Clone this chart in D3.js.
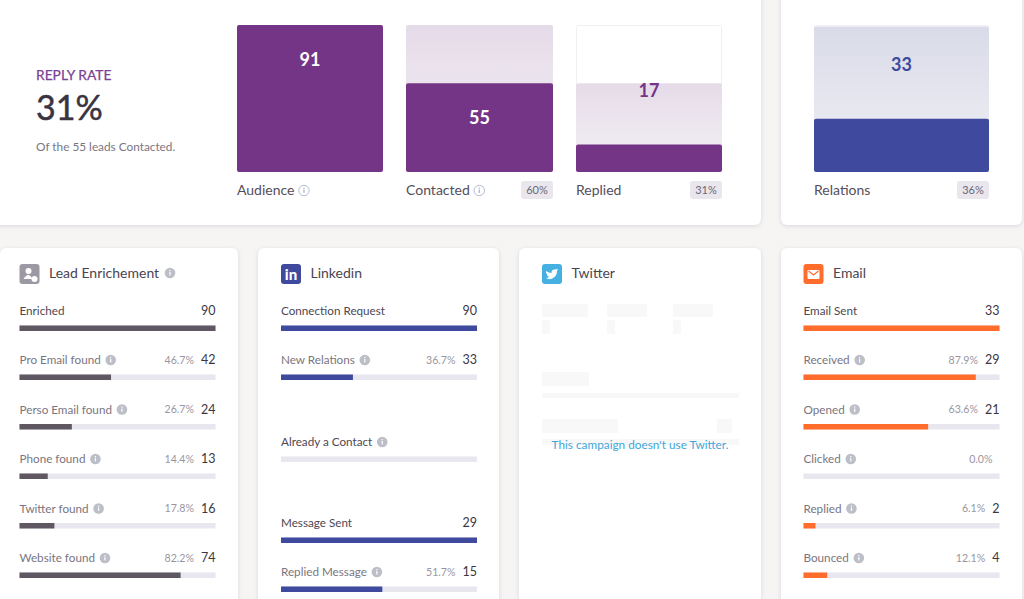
<!DOCTYPE html>
<html>
<head>
  <meta charset="utf-8">
  <title>Campaign stats</title>
  <style>
    html, body { margin: 0; padding: 0; background: #f6f5f4; overflow: hidden; }
    svg { display: block; font-family: Lato, "Open Sans", sans-serif; }
    .card { fill: #fff; filter: drop-shadow(0 1px 2px rgba(90, 80, 120, 0.18)); }
  </style>
  <script src="https://d3js.org/d3.v7.min.js"></script>
</head>
<body>
  <svg id="chart" width="1024" height="599"></svg>

  <script>
    // funnel values
    var funnelNames = ["Audience", "Contacted", "Replied", "Relations"];
    var funnelValues = [91, 55, 17, 33];
    var funnelGhost = [null, 91, 55, 90];
    var funnelPct = [null, "60%", "31%", "36%"];

    // lead enrichment
    var enrichNames = ["Enriched", "Pro Email found", "Perso Email found", "Phone found", "Twitter found", "Website found"];
    var enrichValues = [90, 42, 24, 13, 16, 74];
    var enrichPct = [null, 46.7, 26.7, 14.4, 17.8, 82.2];

    // linkedin
    var linkedinNames = ["Connection Request", "New Relations", "Already a Contact", "Message Sent", "Replied Message"];
    var linkedinValues = [90, 33, null, 29, 15];
    var linkedinPct = [null, 36.7, null, null, 51.7];

    // email
    var emailNames = ["Email Sent", "Received", "Opened", "Clicked", "Replied", "Bounced"];
    var emailValues = [33, 29, 21, null, 2, 4];
    var emailPct = [null, 87.9, 63.6, 0.0, 6.1, 12.1];

    var purple = "#743587", blue = "#3f4a9e", orange = "#ff6c2b", slate = "#5f5762";

    var svg = d3.select("#chart");
    var defs = svg.append("defs");

    function addGradient(id, top, bottom) {
      var g = defs.append("linearGradient").attr("id", id).attr("x1", 0).attr("y1", 0).attr("x2", 0).attr("y2", 1);
      g.append("stop").attr("offset", "0%").attr("stop-color", top);
      g.append("stop").attr("offset", "100%").attr("stop-color", bottom);
    }
    addGradient("ghostPurple", "#e6dbe9", "#f3f2f4");
    addGradient("ghostBlue", "#d9dbe8", "#f1f0f5");

    // cards
    var cards = [[-20, -20, 781, 245], [781, -20, 241, 245], [0, 248, 238, 380], [258, 248, 241, 380], [519, 248, 242, 380], [781, 248, 241, 380]];
    svg.selectAll("rect.card").data(cards).enter().append("rect")
      .attr("class", "card").attr("rx", 6)
      .attr("x", function(d) { return d[0]; }).attr("y", function(d) { return d[1]; })
      .attr("width", function(d) { return d[2]; }).attr("height", function(d) { return d[3]; });

    function addText(parent, x, y, str, size, color, anchor, weight) {
      return parent.append("text").attr("x", x).attr("y", y).attr("dy", "0.35em")
        .attr("font-size", size).attr("fill", color)
        .attr("text-anchor", anchor || "start").attr("font-weight", weight || 400).text(str);
    }

    function infoIcon(x, y, outlined) {
      var g = svg.append("g").attr("transform", "translate(" + x + "," + y + ")");
      g.append("circle").attr("r", outlined ? 5.2 : 5.3)
        .attr("fill", outlined ? "none" : "#bcbfc7").attr("stroke", outlined ? "#b4bdd0" : "none");
      g.append("rect").attr("x", -0.6).attr("y", -1).attr("width", 1.2).attr("height", 3.4).attr("fill", outlined ? "#a5aec4" : "#fff");
      g.append("rect").attr("x", -0.6).attr("y", -3).attr("width", 1.2).attr("height", 1.2).attr("fill", outlined ? "#a5aec4" : "#fff");
    }

    // reply rate block
    addText(svg, 36, 75.5, "REPLY RATE", 13.8, "#7a4295", "start", 400).attr("stroke", "#7a4295").attr("stroke-width", 0.25);
    addText(svg, 36, 108.5, "31%", 34, "#3a3340", "start", 400).attr("stroke", "#3a3340").attr("stroke-width", 0.5);
    addText(svg, 36, 147, "Of the 55 leads Contacted.", 11.8, "#7b7681");

    // funnel, all boxes share one vertical scale
    var funnelY = d3.scaleLinear().domain([0, 91]).range([172, 25]);
    var funnelX = [237, 406, 576, 814];
    var funnelW = [146, 147, 146, 175];
    var funnelColor = [purple, purple, purple, blue];
    var numberY = [60, 118, 91, 65];
    var numberColor = ["#fff", "#fff", purple, blue];

    funnelNames.forEach(function(name, i) {
      var x = funnelX[i], w = funnelW[i];
      svg.append("rect").attr("x", x + 0.5).attr("y", funnelY(91) + 0.5).attr("width", w - 1).attr("height", funnelY(0) - funnelY(91) - 1)
        .attr("rx", 2).attr("fill", "#fff").attr("stroke", "#f1eff3");
      if (funnelGhost[i] !== null) {
        svg.append("rect").attr("x", x).attr("y", funnelY(funnelGhost[i]))
          .attr("width", w).attr("height", funnelY(0) - funnelY(funnelGhost[i]))
          .attr("rx", 2).attr("fill", i === 3 ? "url(#ghostBlue)" : "url(#ghostPurple)");
      }
      svg.append("rect").attr("x", x).attr("y", funnelY(funnelValues[i]))
        .attr("width", w).attr("height", funnelY(0) - funnelY(funnelValues[i]))
        .attr("rx", 2).attr("fill", funnelColor[i]);

      addText(svg, x + w / 2, numberY[i], funnelValues[i], 18, numberColor[i], "middle", 700);

      var label = addText(svg, x, 190.5, name, 14, "#544e5a");
      if (i < 2) infoIcon(x + label.node().getComputedTextLength() + 9.5, 190.5, true);

      if (funnelPct[i]) {
        svg.append("rect").attr("x", x + w - 32).attr("y", 181).attr("width", 32).attr("height", 18).attr("rx", 3).attr("fill", "#e9e6ee");
        addText(svg, x + w - 16, 190, funnelPct[i], 11, "#6d6773", "middle");
      }
    });

    // panel of progress rows
    function drawPanel(opts) {
      var x = d3.scaleLinear().domain([0, 100]).range([opts.x, opts.x + 196]);
      opts.names.forEach(function(name, i) {
        var labelY = opts.rows[i], barY = labelY + 14.5;
        var value = opts.values[i], pct = opts.pct[i];
        var isHead = pct === null;

        var label = addText(svg, opts.x, labelY, name, 11.7, isHead ? "#4d4753" : "#7a7580");
        if (!isHead || value === null) infoIcon(opts.x + label.node().getComputedTextLength() + 10, labelY, false);

        var valueText = addText(svg, opts.x + 196, labelY, value === null ? "" : value, 12.5, "#3d3742", "end");
        if (pct !== null) {
          var used = value === null ? 0 : valueText.node().getComputedTextLength();
          addText(svg, opts.x + 196 - used - 7, labelY, pct.toFixed(1) + "%", 10.6, "#9a96a1", "end");
        }

        var fillTo = isHead ? (value === null ? 0 : 100) : pct;
        svg.append("rect").attr("x", x(0)).attr("y", barY).attr("width", x(100) - x(0)).attr("height", 5.5).attr("fill", "#e8e6ee");
        svg.append("rect").attr("x", x(0)).attr("y", barY).attr("width", x(fillTo) - x(0)).attr("height", 5.5).attr("fill", opts.color);
      });
    }

    var evenRows = [311, 360, 409.5, 459, 508.5, 558];
    drawPanel({ x: 19.5, names: enrichNames, values: enrichValues, pct: enrichPct, color: slate, rows: evenRows });
    drawPanel({ x: 281, names: linkedinNames, values: linkedinValues, pct: linkedinPct, color: blue, rows: [311, 360, 442, 523, 572] });
    drawPanel({ x: 803.5, names: emailNames, values: emailValues, pct: emailPct, color: orange, rows: evenRows });

    // panel headers
    function header(x, color, title) {
      svg.append("rect").attr("x", x).attr("y", 264).attr("width", 20).attr("height", 20).attr("rx", 3).attr("fill", color);
      addText(svg, x + 29.5, 273, title, 14, "#4a4450");
      return svg.append("g").attr("transform", "translate(" + x + ",264)");
    }

    var leadIcon = header(19.5, "#9d99a3", "Lead Enrichement");
    leadIcon.append("circle").attr("cx", 9).attr("cy", 7).attr("r", 3).attr("fill", "#fff");
    leadIcon.append("path").attr("d", "M4 15 Q9 7 13 15 Z").attr("fill", "#fff");
    leadIcon.append("circle").attr("cx", 15).attr("cy", 15).attr("r", 3).attr("fill", "#fff");
    infoIcon(170, 273, false);

    var inIcon = header(281, blue, "Linkedin");
    addText(inIcon, 10, 10.5, "in", 15, "#fff", "middle", 900);

    var twIcon = header(542, "#45b1e3", "Twitter");
    twIcon.append("path").attr("fill", "#fff")
      .attr("d", "M4 7 Q7 9 9.5 9 Q9.5 5 13 5.5 L16 5 L15 7 Q15 13 9 15 Q6 15.5 4 14 Q6 14 7 13 Q4.5 12 5 10 Q3.5 9 4 7 Z");

    var mailIcon = header(803.5, orange, "Email");
    mailIcon.append("rect").attr("x", 4).attr("y", 6).attr("width", 12).attr("height", 9).attr("rx", 1).attr("fill", "#fff");
    mailIcon.append("path").attr("d", "M5 7 L10 11 L15 7").attr("fill", "none").attr("stroke", orange).attr("stroke-width", 1.2);

    // twitter skeleton placeholders
    var skeleton = [[542, 304, 46, 13], [607, 304, 40, 13], [673, 304, 40, 13], [542, 320, 8, 14], [607, 320, 8, 14], [673, 320, 8, 14],
      [542, 372, 47, 14], [542, 393, 197, 5], [542, 419, 76, 14], [717, 419, 15, 14], [542, 439, 197, 6]];
    svg.selectAll("rect.skeleton").data(skeleton).enter().append("rect")
      .attr("class", "skeleton").attr("fill", "#f8f8f8")
      .attr("x", function(d) { return d[0]; }).attr("y", function(d) { return d[1]; })
      .attr("width", function(d) { return d[2]; }).attr("height", function(d) { return d[3]; });
    addText(svg, 640, 445, "This campaign doesn't use Twitter.", 11.8, "#3fa6da", "middle");
  </script>
</body>
</html>
